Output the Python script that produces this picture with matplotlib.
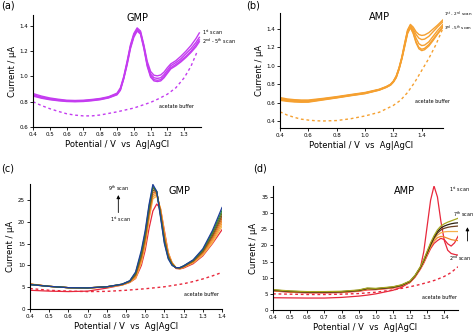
import numpy as np
import matplotlib
matplotlib.use('Agg')
import matplotlib.pyplot as plt

plt.rcParams['font.family'] = ['DejaVu Sans']

# ---- (a) GMP ----
xa = [0.40,0.45,0.50,0.55,0.60,0.65,0.70,0.75,0.80,0.85,0.90,0.92,0.94,0.96,0.98,1.00,1.02,1.04,1.06,1.08,
      1.10,1.12,1.14,1.16,1.18,1.20,1.22,1.25,1.28,1.31,1.34,1.37,1.39]
a_scans = [
    [0.865,0.845,0.830,0.820,0.812,0.810,0.812,0.818,0.826,0.840,0.868,0.91,1.00,1.12,1.25,1.34,1.385,1.36,1.25,1.12,
     1.04,1.010,1.005,1.012,1.035,1.07,1.10,1.125,1.16,1.20,1.245,1.30,1.345],
    [0.855,0.838,0.824,0.815,0.808,0.806,0.808,0.814,0.822,0.836,0.862,0.90,0.99,1.11,1.24,1.33,1.375,1.35,1.24,1.10,
     1.02,0.99,0.985,0.99,1.015,1.05,1.085,1.11,1.14,1.18,1.22,1.27,1.31],
    [0.85,0.833,0.82,0.811,0.805,0.803,0.805,0.811,0.819,0.833,0.858,0.895,0.985,1.10,1.23,1.32,1.365,1.34,1.23,1.09,
     1.005,0.975,0.97,0.975,1.0,1.035,1.07,1.095,1.125,1.16,1.20,1.25,1.29],
    [0.845,0.828,0.816,0.808,0.802,0.800,0.802,0.808,0.816,0.830,0.855,0.89,0.98,1.09,1.22,1.31,1.36,1.335,1.22,1.08,
     0.995,0.965,0.96,0.965,0.99,1.025,1.06,1.085,1.115,1.15,1.19,1.235,1.275],
]
xa_buf = [0.40,0.45,0.50,0.55,0.60,0.65,0.70,0.75,0.80,0.90,1.00,1.10,1.15,1.20,1.25,1.30,1.34,1.375]
ya_buf = [0.80,0.77,0.745,0.724,0.705,0.694,0.688,0.688,0.695,0.72,0.75,0.795,0.825,0.86,0.91,0.99,1.08,1.19]

# ---- (b) AMP ----
xb = [0.40,0.45,0.50,0.55,0.60,0.70,0.80,0.90,1.00,1.10,1.15,1.18,1.20,1.22,1.24,1.26,1.28,1.30,1.32,1.34,
      1.36,1.38,1.40,1.42,1.45,1.48,1.51,1.55]
b_scans = [
    [0.655,0.64,0.632,0.628,0.628,0.645,0.665,0.688,0.71,0.745,0.775,0.80,0.835,0.89,0.98,1.10,1.25,1.39,1.45,1.42,
     1.37,1.34,1.33,1.335,1.36,1.40,1.44,1.50],
    [0.645,0.632,0.625,0.621,0.621,0.64,0.66,0.684,0.706,0.742,0.772,0.797,0.83,0.885,0.975,1.09,1.24,1.38,1.44,1.40,
     1.34,1.30,1.285,1.29,1.32,1.37,1.42,1.48],
    [0.64,0.627,0.62,0.616,0.616,0.636,0.657,0.681,0.703,0.74,0.77,0.795,0.828,0.88,0.97,1.085,1.23,1.37,1.43,1.38,
     1.30,1.24,1.22,1.225,1.26,1.32,1.38,1.45],
    [0.632,0.62,0.613,0.61,0.61,0.632,0.654,0.678,0.70,0.737,0.767,0.792,0.825,0.875,0.965,1.08,1.22,1.36,1.42,1.36,
     1.26,1.20,1.18,1.19,1.23,1.29,1.35,1.43],
    [0.625,0.614,0.607,0.604,0.605,0.628,0.651,0.675,0.697,0.735,0.765,0.79,0.822,0.87,0.96,1.075,1.21,1.35,1.415,1.35,
     1.25,1.185,1.165,1.175,1.215,1.275,1.34,1.42],
]
xb_buf = [0.40,0.45,0.50,0.55,0.60,0.65,0.70,0.80,0.90,1.00,1.10,1.20,1.25,1.30,1.35,1.40,1.45,1.50,1.55]
yb_buf = [0.50,0.465,0.44,0.42,0.41,0.403,0.40,0.405,0.425,0.455,0.495,0.57,0.625,0.71,0.82,0.95,1.08,1.23,1.41]

# ---- (c) GMP, 9 scans ----
xc = [0.40,0.50,0.60,0.70,0.80,0.88,0.92,0.95,0.98,1.00,1.02,1.04,1.06,1.08,1.10,1.12,1.14,1.16,1.18,1.20,
      1.25,1.30,1.35,1.40]
c_scans = [
    [4.3,4.1,4.0,4.1,4.8,5.5,6.1,7.0,10.0,13.5,18.5,22.5,24.1,23,18,13,10.5,9.3,9.2,9.4,10.4,12.2,15,18.2],
    [5.8,5.2,4.9,4.85,5.0,5.5,6.15,7.1,10.6,14.5,20.5,25.3,25.9,23,17.6,12.9,10.7,9.5,9.2,9.6,10.6,12.4,15.2,19.0],
    [5.7,5.2,4.9,4.85,5.05,5.55,6.2,7.3,11.0,15,21,25.8,26.3,22.8,17.2,12.7,10.6,9.5,9.3,9.6,10.7,12.6,15.6,19.6],
    [5.7,5.2,4.9,4.85,5.05,5.6,6.25,7.5,11.4,15.5,21.5,26.3,26.6,22.6,16.8,12.5,10.5,9.5,9.3,9.7,10.8,12.8,16.0,20.2],
    [5.7,5.2,4.9,4.85,5.1,5.6,6.3,7.7,11.8,16,22,26.8,26.8,22.3,16.4,12.3,10.4,9.5,9.3,9.7,10.9,13.0,16.4,20.8],
    [5.7,5.2,4.9,4.85,5.1,5.65,6.35,7.9,12.2,16.5,22.5,27.3,26.9,22,16,12.1,10.3,9.5,9.4,9.8,11.0,13.2,16.8,21.4],
    [5.6,5.2,4.9,4.85,5.1,5.7,6.4,8.1,12.6,17,23,27.8,27,21.6,15.6,11.9,10.2,9.5,9.4,9.8,11.1,13.4,17.2,22.0],
    [5.6,5.2,4.9,4.85,5.1,5.7,6.45,8.3,13,17.5,23.5,28.2,27,21.3,15.3,11.7,10.1,9.5,9.5,9.9,11.2,13.6,17.6,22.6],
    [5.6,5.2,4.9,4.85,5.1,5.7,6.5,8.5,13.5,18,24,28.6,27,21,15,11.5,10.0,9.5,9.5,9.9,11.3,13.8,18,23.3],
]
c_colors = ['#e8283c', '#f8b850', '#f5a33d', '#ef8a2c', '#d46a1f', '#8a4f1d', '#6e6a1c', '#2e8b3a', '#1f3d99']
xc_buf = [0.40,0.50,0.60,0.70,0.80,0.90,1.00,1.10,1.20,1.25,1.30,1.35,1.40]
yc_buf = [4.7,4.3,4.1,4.0,4.05,4.3,4.65,5.1,5.8,6.3,6.9,7.6,8.4]

# ---- (d) AMP, 7 scans ----
xd = [0.40,0.50,0.60,0.70,0.80,0.90,0.95,1.00,1.10,1.15,1.20,1.23,1.26,1.28,1.30,1.32,1.34,1.36,1.38,1.40,
      1.42,1.44,1.46,1.48]
d_scans = [
    [3.8,3.75,3.7,3.7,3.9,4.3,4.6,5.0,6.1,7.0,8.6,10.5,13,18,26,34,38.4,35,27.5,21.5,18.5,17.5,17.2,17.0],
    [5.9,5.5,5.3,5.3,5.4,5.8,6.2,6.3,6.8,7.4,8.5,10.2,12.6,14.5,16.8,19,20.6,21.5,22.2,21.8,20.5,19.8,20.8,22.8],
    [6.0,5.6,5.4,5.4,5.5,5.9,6.4,6.4,6.9,7.5,8.6,10.4,12.8,14.8,17.2,19.5,21.3,22.4,22.8,22.6,22.2,21.8,21.6,21.5],
    [6.1,5.7,5.5,5.5,5.6,6.0,6.5,6.5,7.0,7.6,8.7,10.5,13,15,17.4,19.8,21.8,23.2,23.9,24.2,24.3,24.3,24.3,24.3],
    [6.1,5.7,5.5,5.5,5.6,6.0,6.6,6.5,7.0,7.6,8.8,10.6,13.1,15.2,17.6,20.1,22.2,23.8,24.8,25.3,25.6,25.8,25.9,26.0],
    [6.2,5.8,5.6,5.6,5.7,6.1,6.7,6.6,7.1,7.7,8.9,10.7,13.2,15.4,17.9,20.4,22.6,24.3,25.4,26.0,26.4,26.7,26.9,27.0],
    [6.3,5.9,5.7,5.7,5.8,6.2,6.8,6.7,7.2,7.8,9.0,10.8,13.4,15.6,18.2,20.8,23.0,24.8,26.0,26.7,27.2,27.6,28.0,28.4],
]
d_colors = ['#e8283c', '#e8283c', '#f0882a', '#f6b04a', '#6b3e1f', '#2b2010', '#a8a81e']
xd_buf = [0.40,0.50,0.60,0.70,0.80,0.90,1.00,1.10,1.20,1.25,1.30,1.35,1.40,1.44,1.48]
yd_buf = [5.0,4.9,4.8,4.8,4.9,5.1,5.5,6.2,7.2,7.8,8.5,9.3,10.4,11.6,13.4]

magenta = '#c43cf0'
orange = '#f5a030'
red = '#e8283c'

fig = plt.figure(figsize=(4.74, 3.32), dpi=100)

def px_axes(l, t, r, b):
    W, H = 474.0, 332.0
    return fig.add_axes([l / W, 1 - b / H, (r - l) / W, (b - t) / H])

def style(ax):
    ax.spines['top'].set_visible(False)
    ax.spines['right'].set_visible(False)
    for s in ('left', 'bottom'):
        ax.spines[s].set_linewidth(0.8)
    ax.tick_params(direction='out', length=2, width=0.6, labelsize=4, pad=1.5)
    ax.set_xlabel('Potential / V  vs  Ag|AgCl', fontsize=6, labelpad=2)
    ax.set_ylabel('Current / µA', fontsize=6, labelpad=2)

# (a)
ax = px_axes(33, 15, 201, 127)
for y in a_scans:
    ax.plot(xa, y, color=magenta, lw=1.0)
ax.plot(xa_buf, ya_buf, color=magenta, lw=1.0, ls=(0, (2, 2)))
ax.set_xlim(0.4, 1.4)
ax.set_ylim(0.6, 1.487)
ax.set_xticks(np.arange(0.4, 1.35, 0.1))
ax.set_yticks(np.arange(0.6, 1.45, 0.2))
ax.xaxis.set_major_formatter('{x:.1f}')
ax.yaxis.set_major_formatter('{x:.1f}')
style(ax)
ax.text(1.02, 1.44, 'GMP', fontsize=7, ha='center')
ax.text(1.405, 1.345, r'1$^{\rm st}$ scan', fontsize=3.5, va='center')
ax.text(1.405, 1.275, r'2$^{\rm nd}$ - 5$^{\rm th}$ scan', fontsize=3.5, va='center')
ax.text(1.15, 0.75, 'acetate buffer', fontsize=3.5)
fig.text(0.002, 0.975, '(a)', fontsize=7)

# (b)
ax = px_axes(280, 13, 443, 128)
for y in b_scans:
    ax.plot(xb, y, color=orange, lw=1.0)
ax.plot(xb_buf, yb_buf, color=orange, lw=1.0, ls=(0, (2, 2)))
ax.set_xlim(0.4, 1.55)
ax.set_ylim(0.324, 1.574)
ax.set_xticks(np.arange(0.4, 1.45, 0.2))
ax.set_yticks(np.arange(0.4, 1.45, 0.2))
ax.xaxis.set_major_formatter('{x:.1f}')
ax.yaxis.set_major_formatter('{x:.1f}')
style(ax)
ax.text(1.1, 1.5, 'AMP', fontsize=7, ha='center')
ax.text(1.56, 1.56, r'1$^{\rm st}$ - 2$^{\rm nd}$ scan', fontsize=3.0, va='center')
ax.text(1.56, 1.41, r'3$^{\rm rd}$ - 5$^{\rm th}$ scan', fontsize=3.0, va='center')
ax.text(1.35, 0.6, 'acetate buffer', fontsize=3.5)
fig.text(0.52, 0.975, '(b)', fontsize=7)

# (c)
ax = px_axes(30, 184, 222, 309)
for y, c in zip(c_scans, c_colors):
    ax.plot(xc, y, color=c, lw=0.9)
ax.plot(xc_buf, yc_buf, color=red, lw=1.0, ls=(0, (2, 2)))
ax.set_xlim(0.4, 1.4)
ax.set_ylim(0, 28.7)
ax.set_xticks(np.arange(0.4, 1.45, 0.1))
ax.set_yticks(np.arange(0, 26, 5))
ax.xaxis.set_major_formatter('{x:.1f}')
style(ax)
ax.text(1.18, 26.5, 'GMP', fontsize=7, ha='center')
ax.text(0.86, 27.2, r'9$^{\rm th}$ scan', fontsize=3.5, ha='center')
ax.text(0.87, 20.0, r'1$^{\rm st}$ scan', fontsize=3.5, ha='center')
ax.annotate('', xy=(0.86, 26.8), xytext=(0.86, 21.5),
            arrowprops=dict(arrowstyle='-|>', lw=0.6, color='black', mutation_scale=5))
ax.text(1.2, 3.0, 'acetate buffer', fontsize=3.5)
fig.text(0.002, 0.482, '(c)', fontsize=7)

# (d)
ax = px_axes(273, 186, 458, 310)
for y, c in zip(d_scans, d_colors):
    ax.plot(xd, y, color=c, lw=0.9)
ax.plot(xd_buf, yd_buf, color=red, lw=1.0, ls=(0, (2, 2)))
ax.set_xlim(0.4, 1.48)
ax.set_ylim(0, 38.4)
ax.set_xticks(np.arange(0.4, 1.45, 0.1))
ax.set_yticks(np.arange(0, 36, 5))
ax.xaxis.set_major_formatter('{x:.1f}')
style(ax)
ax.text(1.17, 36.0, 'AMP', fontsize=7, ha='center')
ax.text(1.43, 36.5, r'1$^{\rm st}$ scan', fontsize=3.5)
ax.text(1.45, 29.0, r'7$^{\rm th}$ scan', fontsize=3.5)
ax.text(1.43, 15.3, r'2$^{\rm nd}$ scan', fontsize=3.5)
ax.annotate('', xy=(1.535, 26.5), xytext=(1.535, 20.5),
            arrowprops=dict(arrowstyle='-|>', lw=0.6, color='black', mutation_scale=5),
            annotation_clip=False)
ax.text(1.27, 3.5, 'acetate buffer', fontsize=3.5)
fig.text(0.535, 0.482, '(d)', fontsize=7)

fig.savefig('out.png', dpi=100)
